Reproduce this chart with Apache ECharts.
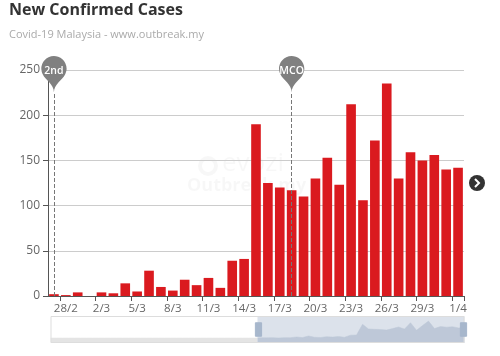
<!DOCTYPE html>
<html>
<head>
<meta charset="utf-8">
<style>html,body{margin:0;padding:0;background:#fff}#main{width:500px;height:356px}</style>
<script src="https://cdn.jsdelivr.net/npm/echarts@6/dist/echarts.min.js"></script>
</head>
<body>
<div id="main"></div>
<script>
// days before the visible window, flat in the slider shadow
var earlyDays = ['23/1','24/1','25/1','26/1','27/1','28/1','29/1','30/1','31/1','1/2','2/2','3/2','4/2','5/2','6/2','7/2','8/2','9/2','10/2','11/2','12/2','13/2','14/2','15/2','16/2','17/2','18/2','19/2','20/2','21/2','22/2','23/2','24/2','25/2','26/2'];
var earlyCases = [0,0,0,0,0,0,0,0,0,0,0,0,0,0,0,0,0,0,0,0,0,0,0,0,0,0,0,0,0,0,0,0,0,0,0];

var days = ['27/2','28/2','29/2','1/3','2/3','3/3','4/3','5/3','6/3','7/3','8/3','9/3','10/3','11/3','12/3','13/3','14/3','15/3','16/3','17/3','18/3','19/3','20/3','21/3','22/3','23/3','24/3','25/3','26/3','27/3','28/3','29/3','30/3','31/3','1/4'];
var cases = [2,1,4,0,4,3,14,5,28,10,6,18,12,20,9,39,41,190,125,120,117,110,130,153,123,212,106,172,235,130,159,150,156,140,142];

var markerDays = ['27/2','18/3'];
var markerNames = ['2nd','MCO'];
var markerValue = 225;

var allDays = earlyDays.concat(days);
var allCases = earlyCases.concat(cases);

var font = '"Open Sans", sans-serif';
var myChart = echarts.init(document.getElementById('main'));

function everyThird(index) {
    return index % 3 === 0;
}

myChart.setOption({
    animation: false,
    title: {
        text: 'New Confirmed Cases',
        subtext: 'Covid-19 Malaysia - www.outbreak.my',
        left: 4,
        top: -3,
        itemGap: 11,
        textStyle: {fontFamily: font, fontSize: 16, fontWeight: 'bold', color: '#333'},
        subtextStyle: {fontFamily: font, fontSize: 11, color: '#aaa'}
    },
    grid: {left: 48, right: 36, top: 70, bottom: 60},
    xAxis: {
        type: 'category',
        data: allDays,
        axisLine: {lineStyle: {color: '#555'}},
        axisTick: {show: true, alignWithLabel: false, interval: everyThird, lineStyle: {color: '#555'}},
        axisLabel: {interval: everyThird, color: '#666', fontFamily: font, fontSize: 11.5, margin: 7}
    },
    yAxis: {
        type: 'value',
        min: 0,
        max: 250,
        interval: 50,
        axisLine: {show: true, lineStyle: {color: '#555'}},
        axisTick: {show: true, lineStyle: {color: '#555'}},
        axisLabel: {color: '#666', fontFamily: font, fontSize: 12},
        splitLine: {lineStyle: {color: '#ccc'}}
    },
    dataZoom: [{
        type: 'slider',
        start: 50,
        end: 100,
        left: 48,
        right: 38,
        bottom: 13,
        height: 27,
        showDetail: false,
        fillerColor: 'rgba(167,183,204,0.4)',
        borderColor: '#ddd',
        moveHandleSize: 0,
        handleIcon: 'path://M0,0H6V13H0Z',
        handleSize: '50%',
        handleStyle: {color: '#a7b7cc', borderColor: '#a7b7cc'},
        dataBackground: {lineStyle: {color: '#e4e4e4'}, areaStyle: {color: '#e4e4e4', opacity: 1}},
        selectedDataBackground: {lineStyle: {color: '#cdd4df'}, areaStyle: {color: '#cdd4df', opacity: 1}}
    }],
    series: [{
        type: 'bar',
        data: allCases,
        barCategoryGap: '19%',
        itemStyle: {color: '#da1a1f'},
        markLine: {
            silent: true,
            symbol: 'none',
            label: {show: false},
            lineStyle: {color: '#777', type: 'dashed', width: 1},
            data: markerDays.map(function (d) {
                return [{coord: [d, 0]}, {coord: [d, markerValue]}];
            })
        },
        markPoint: {
            silent: true,
            symbol: 'pin',
            symbolSize: 42,
            itemStyle: {color: '#808080'},
            label: {color: '#fff', fontFamily: font, fontSize: 10.5, fontWeight: 600},
            data: markerDays.map(function (d, i) {
                return {coord: [d, markerValue], value: markerNames[i]};
            })
        }
    }],
    graphic: [
        {type: 'circle', silent: true, z: -1, shape: {cx: 208, cy: 166, r: 8}, style: {fill: null, stroke: 'rgba(0,0,0,0.03)', lineWidth: 4}},
        {type: 'text', left: 222, top: 151, silent: true, z: -1, style: {text: 'evozi', font: '26px ' + font, fill: 'rgba(0,0,0,0.03)'}},
        {type: 'text', left: 187, top: 177, silent: true, z: -1, style: {text: 'Outbreak.my', font: 'bold 18px ' + font, fill: 'rgba(0,0,0,0.03)'}},
        {type: 'circle', shape: {cx: 477, cy: 183, r: 8}, style: {fill: '#333'}},
        {type: 'polyline', shape: {points: [[475, 179], [479, 183], [475, 187]]}, style: {stroke: '#fff', lineWidth: 2, fill: null}}
    ]
});
</script>
</body>
</html>
